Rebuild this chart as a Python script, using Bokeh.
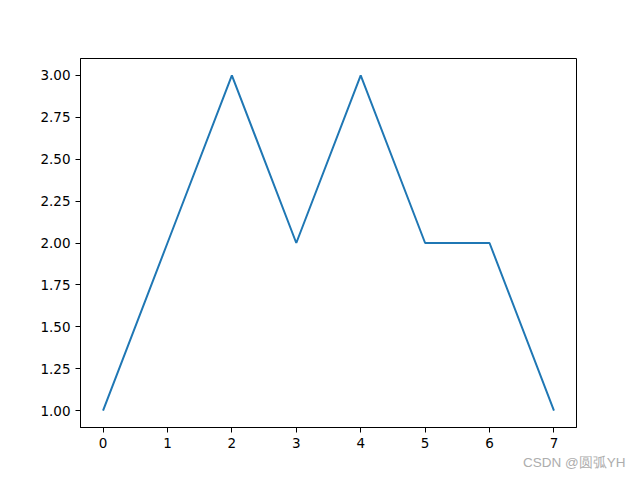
from bokeh.plotting import figure
from bokeh.models import Range1d, FixedTicker, NumeralTickFormatter, Title
from bokeh.embed import file_html
from bokeh.resources import INLINE

# data
x = [0, 1, 2, 3, 4, 5, 6, 7]
y = [1, 2, 3, 2, 3, 2, 2, 1]
x_ticks = [0, 1, 2, 3, 4, 5, 6, 7]
y_ticks = [1.0, 1.25, 1.5, 1.75, 2.0, 2.25, 2.5, 2.75, 3.0]
watermark = "CSDN @圆弧YH"

p = figure(width=640, height=480, output_backend="svg", toolbar_location=None,
           x_range=Range1d(-0.35, 7.35), y_range=Range1d(0.9, 3.1),
           min_border_left=80, min_border_right=64, min_border_top=58, min_border_bottom=53)

p.line(x, y, line_color="#1f77b4", line_width=2)

p.xgrid.visible = False
p.ygrid.visible = False
p.outline_line_color = "black"
p.outline_line_width = 1

for ax in (p.xaxis, p.yaxis):
    ax.major_tick_out = 5
    ax.major_tick_in = 0
    ax.minor_tick_line_color = None
    ax.axis_line_color = "black"
    ax.major_label_text_font = "DejaVu Sans"
    ax.major_label_text_font_size = "13.5px"
    ax.major_label_text_color = "black"
    ax.major_label_standoff = 5

p.xaxis.ticker = FixedTicker(ticks=x_ticks)
p.yaxis.ticker = FixedTicker(ticks=y_ticks)
p.yaxis.formatter = NumeralTickFormatter(format="0.00")

# watermark under the x axis, pushed out past the right edge of the frame
wm = Title(text=watermark, align="right", offset=-49, text_color="#adadad",
           text_font="Liberation Sans", text_font_size="13.5px", text_font_style="normal",
           standoff=4)
p.add_layout(wm, "below")

open("out.html", "w").write(file_html(p, INLINE))
